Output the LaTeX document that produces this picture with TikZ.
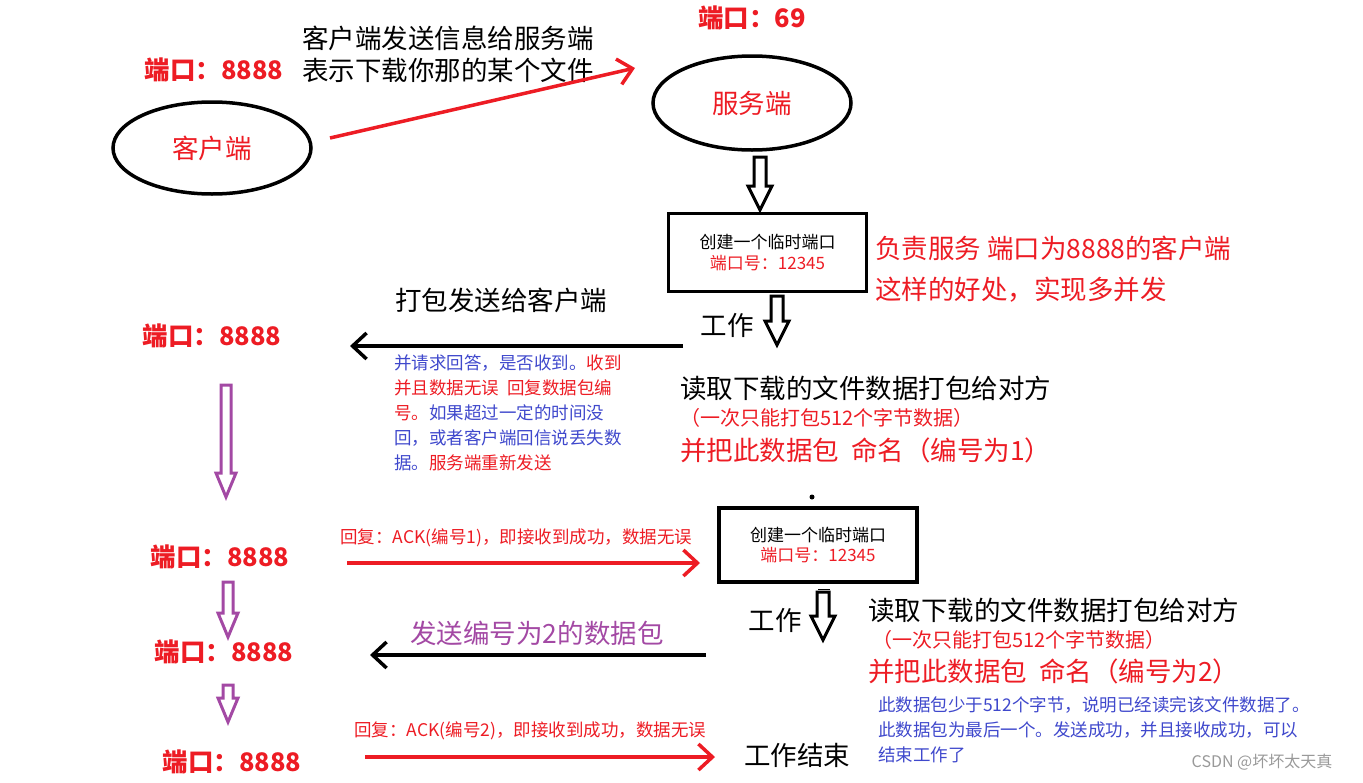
\documentclass[tikz,border=0pt]{standalone}
\usepackage{fontspec}
\setmainfont{Noto Sans CJK SC}
\usetikzlibrary{arrows.meta}
\definecolor{rd}{RGB}{237,28,36}
\definecolor{bl}{RGB}{63,72,204}
\definecolor{pu}{RGB}{163,73,164}
\tikzset{
 big/.style={font=\fontsize{26.5}{28}\selectfont},
 mid/.style={font=\fontsize{20}{22}\selectfont},
 sml/.style={font=\fontsize{17.5}{25}\selectfont},
 port/.style={font=\fontsize{25.5}{27}\selectfont\bfseries,text=rd},
 flow/.style={line width=3.5pt,-{Straight Barb[length=14pt,width=26pt,line width=3.5pt]}},
}
\newcommand{\hollow}[5]{%
 \draw[#4,line width=3pt,line join=miter] (#1-#5,#2) -- (#1+#5,#2) -- (#1+#5,#3-24) -- (#1+2*#5,#3-24) -- (#1,#3) -- (#1-2*#5,#3-24) -- (#1-#5,#3-24) -- cycle;}
\begin{document}
\begin{tikzpicture}[x=1pt,y=-1pt]
\useasboundingbox (0,0) rectangle (1363,782);
\draw[line width=3.5pt] (212,148) ellipse [x radius=99,y radius=46];
\node[big,text=rd] (c) at (212,148) {客户端};
\draw[line width=3.5pt] (752,103) ellipse [x radius=99,y radius=47];
\node[big,text=rd] (s) at (752,103) {服务端};
\node[port] (p1) at (214,70) {端口：8888};
\node[port] (p69) at (752,18) {端口：69};
\node[big,align=left,anchor=west,inner sep=0pt] (msg) at (302,54) {客户端发送信息给服务端\\[4pt]表示下载你那的某个文件};
\coordinate (a1) at (330,138); \coordinate (a2) at (635,68);
\draw[flow,rd] (a1) -- (a2);
\hollow{760}{157}{210}{black}{6}
\node[draw,line width=3.5pt,minimum width=198pt,minimum height=78pt,align=center] (b1) at (767.5,252.5) {\fontsize{17}{19}\selectfont 创建一个临时端口\\[4pt]{\fontsize{17}{19}\selectfont\color{rd}端口号：12345}};
\node[big,text=rd,anchor=west,inner sep=0pt] (r1) at (875,248) {负责服务 端口为8888的客户端};
\node[big,text=rd,anchor=west,inner sep=0pt] (r2) at (875,290) {这样的好处，实现多并发};
\hollow{777}{296}{345}{black}{6}
\node[big] (w1) at (727,325) {工作};
\coordinate (k1) at (683,346); \coordinate (k2) at (350,346);
\draw[flow] (k1) -- (k2);
\node[big] (pk) at (501,300) {打包发送给客户端};
\node[port] (p2) at (212,336) {端口：8888};
\node[sml,align=left,anchor=north west,text=bl,inner sep=0pt] (para) at (394,355) {并请求回答，是否收到。\textcolor{rd}{收到}\\\textcolor{rd}{并且数据无误\ \ 回复数据包编}\\\textcolor{rd}{号。}如果超过一定的时间没\\回，或者客户端回信说丢失数\\据。\textcolor{rd}{服务端重新发送}};
\node[big,anchor=west,inner sep=0pt] (rd1) at (680,388) {读取下载的文件数据打包给对方};
\node[mid,text=rd,anchor=west,inner sep=0pt] (rd2) at (680,418) {（一次只能打包512个字节数据）};
\node[big,text=rd,anchor=west,inner sep=0pt] (rd3) at (680,450) {并把此数据包\ \ 命名（编号为1）};
\hollow{226}{385}{497}{pu}{5}
\fill (812,497) circle (2.5);
\node[port] (p3) at (220,557) {端口：8888};
\node[sml,text=rd,anchor=west,inner sep=0pt] (ack1) at (340,538) {回复：ACK(编号1)，即接收到成功，数据无误};
\coordinate (e1) at (347,563); \coordinate (e2) at (700,563);
\draw[flow,rd] (e1) -- (e2);
\node[draw,line width=3.5pt,minimum width=198pt,minimum height=74pt,align=center] (b2) at (818,545) {\fontsize{17}{19}\selectfont 创建一个临时端口\\[4pt]{\fontsize{17}{19}\selectfont\color{rd}端口号：12345}};
\draw[line width=1pt] (818,589) -- (830,589);
\hollow{823}{592}{640}{black}{6}
\node[big] (w2) at (775,620) {工作};
\node[big,anchor=west,inner sep=0pt] (rd4) at (868,610) {读取下载的文件数据打包给对方};
\node[mid,text=rd,anchor=west,inner sep=0pt] (rd5) at (872,640) {（一次只能打包512个字节数据）};
\node[big,text=rd,anchor=west,inner sep=0pt] (rd6) at (868,671) {并把此数据包\ \ 命名（编号为2）};
\hollow{228}{582}{637}{pu}{5}
\node[port] (p4) at (224,652) {端口：8888};
\coordinate (f1) at (706,655); \coordinate (f2) at (370,655);
\draw[flow] (f1) -- (f2);
\node[big,text=pu] (s2) at (537,633) {发送编号为2的数据包};
\hollow{228}{685}{722}{pu}{5}
\node[port] (p5) at (232,762) {端口：8888};
\node[sml,text=rd,anchor=west,inner sep=0pt] (ack2) at (354,731) {回复：ACK(编号2)，即接收到成功，数据无误};
\coordinate (g1) at (365,757); \coordinate (g2) at (715,757);
\draw[flow,rd] (g1) -- (g2);
\node[big] (end) at (797,755) {工作结束};
\node[sml,text=bl,align=left,anchor=north west,inner sep=0pt] (para2) at (878,696) {此数据包少于512个字节，说明已经读完该文件数据了。\\此数据包为最后一个。发送成功，并且接收成功，可以\\结束工作了};
\node[font=\fontsize{16}{18}\selectfont,text=black!40] (wm) at (1262,762) {CSDN @坏坏太天真};
\end{tikzpicture}
\end{document}
